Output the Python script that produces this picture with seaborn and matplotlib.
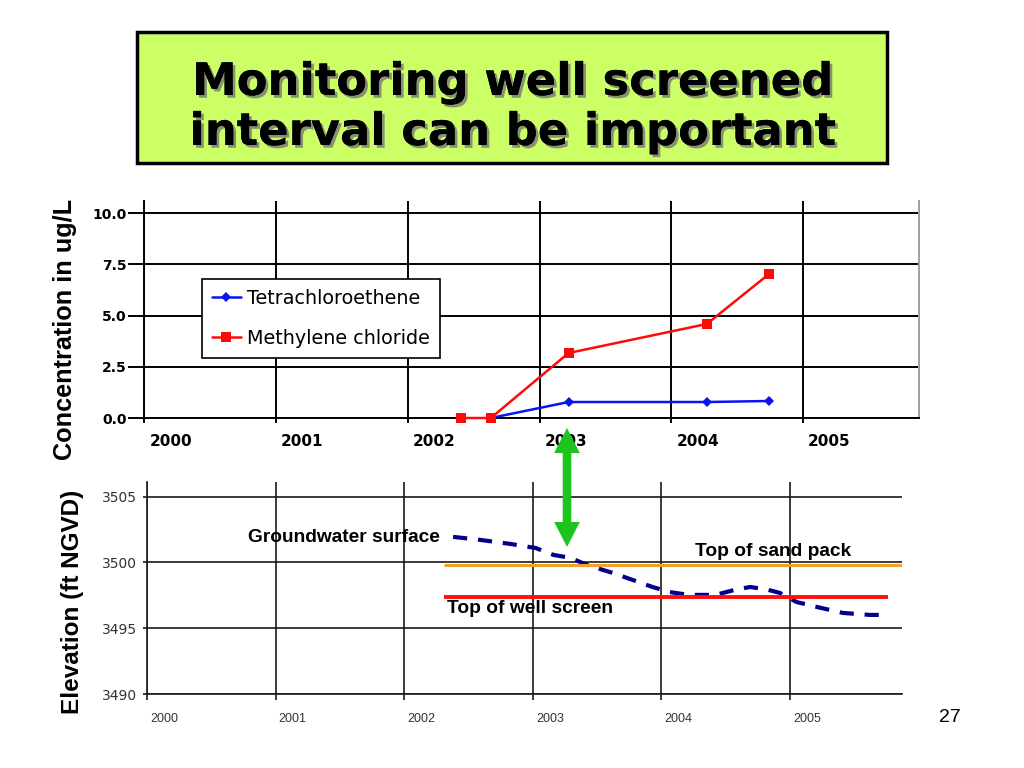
import matplotlib
matplotlib.use("Agg")
import matplotlib.pyplot as plt
import matplotlib.patheffects as pe
import matplotlib.transforms as mtrans
from matplotlib.patches import Rectangle, FancyArrowPatch
import seaborn as sns

# --- data ---
years = [2000, 2001, 2002, 2003, 2004, 2005]
conc_ticks = [0.0, 2.5, 5.0, 7.5, 10.0]
elev_ticks = [3490, 3495, 3500, 3505]

# concentrations (decimal year, ug/L)
pce_year = [2002.63, 2003.22, 2004.27, 2004.74]
pce_conc = [0.0, 0.78, 0.78, 0.83]
mc_year = [2002.40, 2002.63, 2003.22, 2004.27, 2004.74]
mc_conc = [0.0, 0.0, 3.17, 4.59, 7.02]

# groundwater surface (decimal year, ft NGVD)
gw_year = [2002.38, 2002.59, 2002.82, 2003.02, 2003.16, 2003.29, 2003.44,
           2003.62, 2003.93, 2004.06, 2004.21, 2004.42, 2004.57, 2004.69,
           2004.83, 2004.92, 2005.05, 2005.21, 2005.41, 2005.62, 2005.76]
gw_elev = [3501.94, 3501.71, 3501.41, 3501.10, 3500.57, 3500.35, 3499.74,
           3499.21, 3498.14, 3497.76, 3497.54, 3497.54, 3497.92, 3498.14,
           3497.92, 3497.69, 3497.00, 3496.62, 3496.17, 3496.02, 3496.02]

sand_pack_elev = 3499.8
sand_pack_span = [2002.31, 2005.91]
screen_elev = 3497.35
screen_span = [2002.31, 2005.76]

sns.set_theme(style="white")
plt.rcParams["font.family"] = ["DejaVu Sans"]
plt.rcParams["text.color"] = "black"
plt.rcParams["axes.labelcolor"] = "black"

W, H = 1024, 768
fig = plt.figure(figsize=(10.24, 7.68), dpi=100)
fig.patch.set_facecolor("white")


def fx(px):
    return px / W


def fy(py):
    return 1 - py / H


# --- title box ---
fig.add_artist(Rectangle((fx(137), fy(163)), fx(750), 131 / H, transform=fig.transFigure,
                         facecolor="#ccff66", edgecolor="black", lw=2.5, zorder=1))
shadow = [pe.withSimplePatchShadow(offset=(2, -2), shadow_rgbFace="#777777", alpha=0.8), pe.Normal()]
for txt, base in [("Monitoring well screened", 95), ("interval can be important", 145)]:
    fig.text(0.5005, fy(base), txt, ha="center", va="baseline", fontsize=32.3,
             fontweight="bold", family="DejaVu Sans", color="black",
             path_effects=shadow, zorder=2)

# --- top chart: concentrations ---
ax1 = fig.add_axes([fx(144.3), fy(418), fx(919 - 144.3), (418 - 201) / H])
sns.lineplot(x=pce_year, y=pce_conc, ax=ax1, color="#0a14f0", lw=1.8, marker="D",
             markersize=5.5, markeredgewidth=0, label="Tetrachloroethene", sort=False,
             estimator=None, clip_on=False, zorder=4)
sns.lineplot(x=mc_year, y=mc_conc, ax=ax1, color="#ff0a0a", lw=1.8, marker="s",
             markersize=7.8, markeredgewidth=0, label="Methylene chloride", sort=False,
             estimator=None, clip_on=False, zorder=4)
ax1.set_xlim(2000, 2005.88)
ax1.set_ylim(0, 10.59)
ax1.set_xticks(years)
ax1.set_yticks(conc_ticks)
ax1.set_yticklabels([f"{v:.1f}" for v in conc_ticks])
ax1.grid(True, color="black", lw=1.4)
ax1.set_axisbelow(True)
for s in ["left", "bottom"]:
    ax1.spines[s].set_color("black")
    ax1.spines[s].set_linewidth(1.4)
ax1.spines["right"].set_color("#a0a0a0")
ax1.spines["right"].set_linewidth(1.4)
ax1.spines["top"].set_visible(False)
ax1.tick_params(axis="y", direction="out", length=11.5, width=1.4, color="black", pad=1,
                labelsize=10, labelcolor="black", left=True)
ax1.tick_params(axis="x", direction="out", length=3.6, width=1.4, color="black", pad=8,
                labelsize=11, labelcolor="black", bottom=True)
for lab in ax1.get_yticklabels() + ax1.get_xticklabels():
    lab.set_fontweight("bold")
off = mtrans.ScaledTranslation(0.05, 0, fig.dpi_scale_trans)
for lab in ax1.get_xticklabels():
    lab.set_horizontalalignment("left")
    lab.set_transform(lab.get_transform() + off)
ax1.set_xlabel("")
ax1.set_ylabel("")
leg = ax1.legend(loc="upper left", bbox_to_anchor=(0.0745, 0.64), borderaxespad=0,
                 fontsize=13.8, frameon=True, fancybox=False, handlelength=1.55,
                 handletextpad=0.3, labelspacing=1.12, borderpad=0.5)
leg.get_frame().set_edgecolor("black")
leg.get_frame().set_linewidth(1.2)
leg.get_frame().set_facecolor("white")
leg.get_frame().set_alpha(1)
for t in leg.get_texts():
    t.set_color("black")

fig.text(fx(65), fy(329), "Concentration in ug/L", rotation=90, ha="center", va="center",
         fontsize=18.2, fontweight="bold", family="Liberation Sans", color="black")

# --- bottom chart: elevations ---
ax2 = fig.add_axes([fx(147), fy(694.3), fx(902 - 147), (694.3 - 482) / H])
sns.lineplot(x=gw_year, y=gw_elev, ax=ax2, color="#00008b", lw=3.0,
             linestyle=(0, (3.4, 2.6)), sort=False, estimator=None)
ax2.hlines(sand_pack_elev, sand_pack_span[0], sand_pack_span[1], color="#f2a02a", lw=2.2, zorder=3)
ax2.hlines(screen_elev, screen_span[0], screen_span[1], color="#ff1010", lw=2.8, zorder=3)
ax2.set_xlim(2000, 2005.87)
ax2.set_ylim(3490, 3506.1)
ax2.set_xticks(years)
ax2.set_yticks(elev_ticks)
ax2.grid(True, color="#1a1a1a", lw=1.2)
ax2.set_axisbelow(True)
ax2.spines["left"].set_color("#1a1a1a")
ax2.spines["left"].set_linewidth(1.2)
ax2.spines["bottom"].set_color("#1a1a1a")
ax2.spines["bottom"].set_linewidth(1.2)
ax2.spines["top"].set_visible(False)
ax2.spines["right"].set_visible(False)
ax2.tick_params(axis="y", direction="out", length=3, width=1.2, color="#1a1a1a", pad=4,
                labelsize=10, labelcolor="#333333", left=True)
ax2.tick_params(axis="x", direction="out", length=4.3, width=1.2, color="#1a1a1a", pad=9,
                labelsize=9, labelcolor="#333333", bottom=True)
off2 = mtrans.ScaledTranslation(0.03, 0, fig.dpi_scale_trans)
for lab in ax2.get_xticklabels():
    lab.set_horizontalalignment("left")
    lab.set_family("Liberation Sans")
    lab.set_transform(lab.get_transform() + off2)
ax2.set_xlabel("")
ax2.set_ylabel("")

ann = dict(fontsize=13.8, fontweight="bold", family="Liberation Sans", color="black")
ax2.text(2002.28, 3501.86, "Groundwater surface", ha="right", va="center", **ann)
ax2.text(2004.26, 3500.82, "Top of sand pack", ha="left", va="center", **ann)
ax2.text(2002.33, 3496.47, "Top of well screen", ha="left", va="center", **ann)

fig.text(fx(73), fy(602), "Elevation (ft NGVD)", rotation=90, ha="center", va="center",
         fontsize=17.5, fontweight="bold", family="Liberation Sans", color="black")

# --- green double arrow between the charts ---
ax_x = fx(567)
mid = fy(488)
for end in (fy(428), fy(547)):
    fig.add_artist(FancyArrowPatch((ax_x, mid), (ax_x, end), transform=fig.transFigure,
                                   arrowstyle="simple,head_width=1.85,head_length=1.8,tail_width=0.62",
                                   mutation_scale=10, color="#1ec41e", lw=0, zorder=10,
                                   shrinkA=0, shrinkB=0))

fig.text(fx(950), fy(718), "27", ha="center", va="center", fontsize=14,
         family="Liberation Sans", color="black")

fig.savefig("out.png", dpi=100)
